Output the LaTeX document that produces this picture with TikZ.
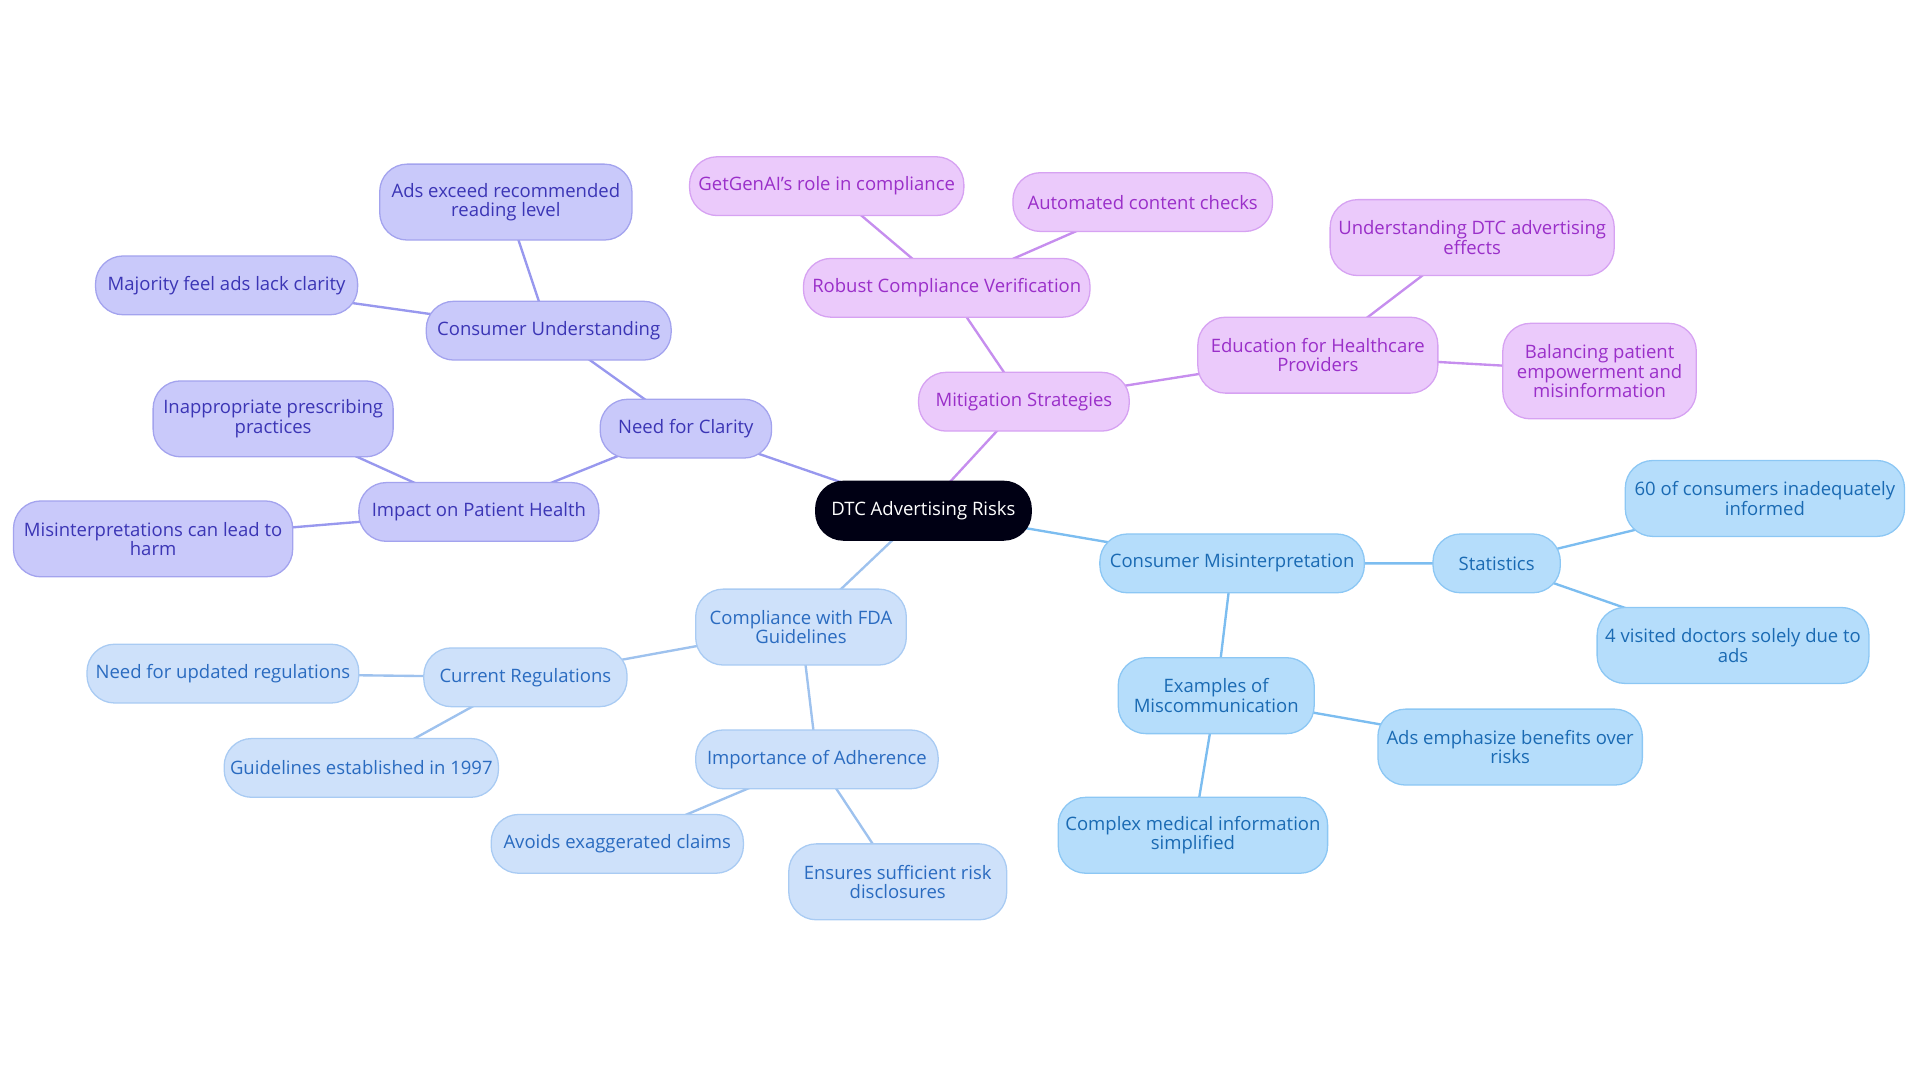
\documentclass[tikz,border=0pt]{standalone}
\usepackage{fontspec}
\setmainfont{Open Sans}
\usetikzlibrary{backgrounds}
\definecolor{pA}{HTML}{C9C9FA}\definecolor{pAb}{HTML}{A3A3EE}\definecolor{pAt}{HTML}{3B35B5}
\definecolor{pB}{HTML}{EBCAFB}\definecolor{pBb}{HTML}{D6A2F2}\definecolor{pBt}{HTML}{9A2FC9}
\definecolor{pC}{HTML}{B5DDFB}\definecolor{pCb}{HTML}{8CC7F4}\definecolor{pCt}{HTML}{1A6AB3}
\definecolor{pD}{HTML}{CEE1FA}\definecolor{pDb}{HTML}{A9CBF3}\definecolor{pDt}{HTML}{2A6BC0}
\definecolor{eA}{HTML}{9898EE}\definecolor{eB}{HTML}{C68EEE}\definecolor{eC}{HTML}{7CBDF0}\definecolor{eD}{HTML}{9EC2EE}
\tikzset{
 nb/.style={rounded corners=0.45cm, draw, line width=0.6pt, align=center, font=\fontsize{8.6}{9}\selectfont, inner sep=0pt, minimum height=0.96cm},
 gA/.style={nb, fill=pA, draw=pAb, text=pAt},
 gB/.style={nb, fill=pB, draw=pBb, text=pBt},
 gC/.style={nb, fill=pC, draw=pCb, text=pCt},
 gD/.style={nb, fill=pD, draw=pDb, text=pDt},
 tw/.style={minimum height=1.24cm},
 ed/.style={line width=1.1pt}
}
\newcommand{\N}[6]{\node[#1, minimum width=#5*0.02cm, #6] (#2) at (#3*0.02,-#4*0.02) {};}
\begin{document}
\begin{tikzpicture}
\useasboundingbox (0,0) rectangle (31.36,-17.68);
\node[nb, fill=black!92!blue, draw=black!92!blue, text=white, minimum width=3.52cm] (root) at (754*0.02,-417*0.02) {DTC Advertising Risks};
% group A
\node[gA, minimum width=2.8cm] (nfc) at (560*0.02,-350*0.02) {Need for Clarity};
\node[gA, minimum width=4cm] (cu) at (448*0.02,-270*0.02) {Consumer Understanding};
\node[gA, tw, minimum width=4.12cm] (aer) at (413*0.02,-165*0.02) {Ads exceed recommended\\reading level};
\node[gA, minimum width=4.28cm] (mfa) at (185*0.02,-233*0.02) {Majority feel ads lack clarity};
\node[gA, minimum width=3.92cm] (iph) at (391*0.02,-418*0.02) {Impact on Patient Health};
\node[gA, tw, minimum width=3.92cm] (ipp) at (223*0.02,-342*0.02) {Inappropriate prescribing\\practices};
\node[gA, tw, minimum width=4.56cm] (mcl) at (125*0.02,-440*0.02) {Misinterpretations can lead to\\harm};
% group B
\node[gB, minimum width=3.44cm] (ms) at (836*0.02,-328*0.02) {Mitigation Strategies};
\node[gB, minimum width=4.68cm] (rcv) at (773*0.02,-235*0.02) {Robust Compliance Verification};
\node[gB, minimum width=4.48cm] (gg) at (675*0.02,-152*0.02) {GetGenAI's role in compliance};
\node[gB, minimum width=4.24cm] (acc) at (933*0.02,-165*0.02) {Automated content checks};
\node[gB, tw, minimum width=3.92cm] (ehp) at (1076*0.02,-290*0.02) {Education for Healthcare\\Providers};
\node[gB, tw, minimum width=4.64cm] (ude) at (1202*0.02,-194*0.02) {Understanding DTC advertising\\effects};
\node[gB, minimum height=1.56cm, minimum width=3.16cm] (bpe) at (1306*0.02,-303*0.02) {Balancing patient\\empowerment and\\misinformation};
% group C
\node[gC, minimum width=4.32cm] (cmi) at (1006*0.02,-460*0.02) {Consumer Misinterpretation};
\node[gC, minimum width=2.08cm] (st) at (1222*0.02,-460*0.02) {Statistics};
\node[gC, tw, minimum width=4.56cm] (s60) at (1441*0.02,-407*0.02) {60 of consumers inadequately\\informed};
\node[gC, tw, minimum width=4.44cm] (s4) at (1415*0.02,-527*0.02) {4 visited doctors solely due to\\ads};
\node[gC, tw, minimum width=3.2cm] (eom) at (993*0.02,-568*0.02) {Examples of\\Miscommunication};
\node[gC, tw, minimum width=4.32cm] (aeb) at (1233*0.02,-610*0.02) {Ads emphasize benefits over\\risks};
\node[gC, tw, minimum width=4.4cm] (cmis) at (974*0.02,-682*0.02) {Complex medical information\\simplified};
% group D
\node[gD, tw, minimum width=3.44cm] (cfda) at (654*0.02,-512*0.02) {Compliance with FDA\\Guidelines};
\node[gD, minimum width=3.32cm] (cr) at (429*0.02,-553*0.02) {Current Regulations};
\node[gD, minimum width=4.44cm] (nur) at (182*0.02,-550*0.02) {Need for updated regulations};
\node[gD, minimum width=4.48cm] (ge) at (295*0.02,-627*0.02) {Guidelines established in 1997};
\node[gD, minimum width=3.96cm] (ioa) at (667*0.02,-620*0.02) {Importance of Adherence};
\node[gD, minimum width=4.12cm] (aec) at (504*0.02,-689*0.02) {Avoids exaggerated claims};
\node[gD, tw, minimum width=3.56cm] (esr) at (733*0.02,-720*0.02) {Ensures sufficient risk\\disclosures};
\begin{scope}[on background layer]
\draw[ed, eA] (root.center)--(nfc.center) (nfc.center)--(cu.center) (cu.center)--(aer.center) (cu.center)--(mfa.center) (nfc.center)--(iph.center) (iph.center)--(ipp.center) (iph.center)--(mcl.center);
\draw[ed, eB] (root.center)--(ms.center) (ms.center)--(rcv.center) (rcv.center)--(gg.center) (rcv.center)--(acc.center) (ms.center)--(ehp.center) (ehp.center)--(ude.center) (ehp.center)--(bpe.center);
\draw[ed, eC] (root.center)--(cmi.center) (cmi.center)--(st.center) (st.center)--(s60.center) (st.center)--(s4.center) (cmi.center)--(eom.center) (eom.center)--(aeb.center) (eom.center)--(cmis.center);
\draw[ed, eD] (root.center)--(cfda.center) (cfda.center)--(cr.center) (cr.center)--(nur.center) (cr.center)--(ge.center) (cfda.center)--(ioa.center) (ioa.center)--(aec.center) (ioa.center)--(esr.center);
\end{scope}
\end{tikzpicture}
\end{document}
